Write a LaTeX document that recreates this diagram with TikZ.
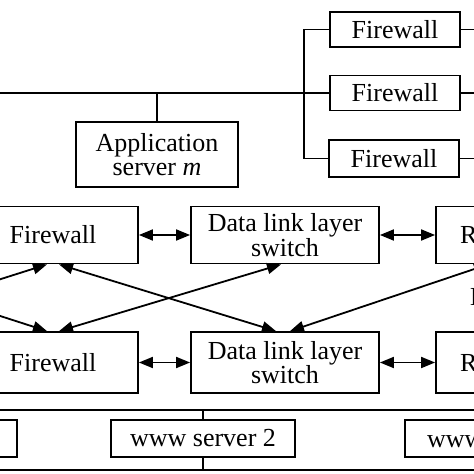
\documentclass[tikz,border=0pt]{standalone}
\usepackage{fontspec}
\setmainfont{Liberation Serif}
\usetikzlibrary{arrows.meta,positioning}
\begin{document}
\begin{tikzpicture}[x=1pt, y=-1pt, line width=1.8pt,
  every node/.style={font=\fontsize{26}{23.5}\selectfont},
  box/.style={draw, rectangle, inner sep=0pt, align=center},
  fw/.style={box, minimum width=130pt, minimum height=35pt},
  row/.style={box, minimum height=57pt},
  link/.style={{Triangle[length=14pt,width=11pt]}-{Triangle[length=14pt,width=11pt]}}]
  \useasboundingbox (0,0) rectangle (474,474);
  \clip (0,0) rectangle (474,474);
  \node[fw] (fwA) at (395,29.5) {Firewall};
  \node[fw] (fwB) at (395,93) {Firewall};
  \node[fw, minimum height=37pt] (fwC) at (394,158.5) {Firewall};
  \node[box, minimum width=162pt, minimum height=65pt] (app) at (157,154.5) {Application\\server \textit{m}};
  \coordinate (west) at (-5,93);
  \draw (west) -- (fwB.west);
  \draw (fwA.west) -- ++(-25,0) |- (fwC.west);
  \draw (app.north) -- (app.north |- west);
  \foreach \f in {fwA,fwB,fwC} \draw (\f.east) -- ++(20,0);
  \node[row, minimum width=170pt] (fw1) at (53,235) {Firewall};
  \node[row, minimum width=188pt] (dll1) at (285,235) {Data link layer\\switch};
  \node[row, minimum width=104pt, text width=56pt, align=left] (r1) at (488,235) {R};
  \node[row, minimum width=170pt, minimum height=61pt] (fw2) at (53,362.5) {Firewall};
  \node[row, minimum width=188pt, minimum height=61pt] (dll2) at (285,362.5) {Data link layer\\switch};
  \node[row, minimum width=104pt, minimum height=61pt, text width=56pt, align=left] (r2) at (488,362.5) {R};
  \node[anchor=base west, inner sep=0pt] (ilbl) at (469,305) {I};
  \draw[link] (fw1) -- (dll1);
  \draw[link] (dll1) -- (r1);
  \draw[link] (fw2) -- (dll2);
  \draw[link] (dll2) -- (r2);
  \coordinate (inA) at (-40,292);
  \coordinate (inB) at (-40,303);
  \draw[link] (inA) -- ([xshift=-6pt]fw1.south);
  \draw[link] (inB) -- ([xshift=-6pt]fw2.north);
  \draw[link] ([xshift=6pt]fw1.south) -- ([xshift=-9pt]dll2.north);
  \draw[link] ([xshift=6pt]fw2.north) -- ([xshift=-4pt]dll1.south);
  \draw[link] (r1.south) -- ([xshift=5pt]dll2.north);
  \node[box, minimum width=184pt, minimum height=37pt] (www2) at (203,438.5) {www server 2};
  \node[box, minimum width=167pt, minimum height=37pt] (wwwL) at (-66.5,438.5) {};
  \node[box, minimum width=184pt, minimum height=37pt, text width=140pt, text height=17pt, text depth=0pt, align=left] (wwwR) at (497,438.5) {www};
  \draw (-5,410) -- (480,410);
  \draw (-5,470) -- (480,470);
  \draw (www2.north) -- (www2.north |- 0,410);
  \draw (www2.south) -- (www2.south |- 0,470);
\end{tikzpicture}
\end{document}
